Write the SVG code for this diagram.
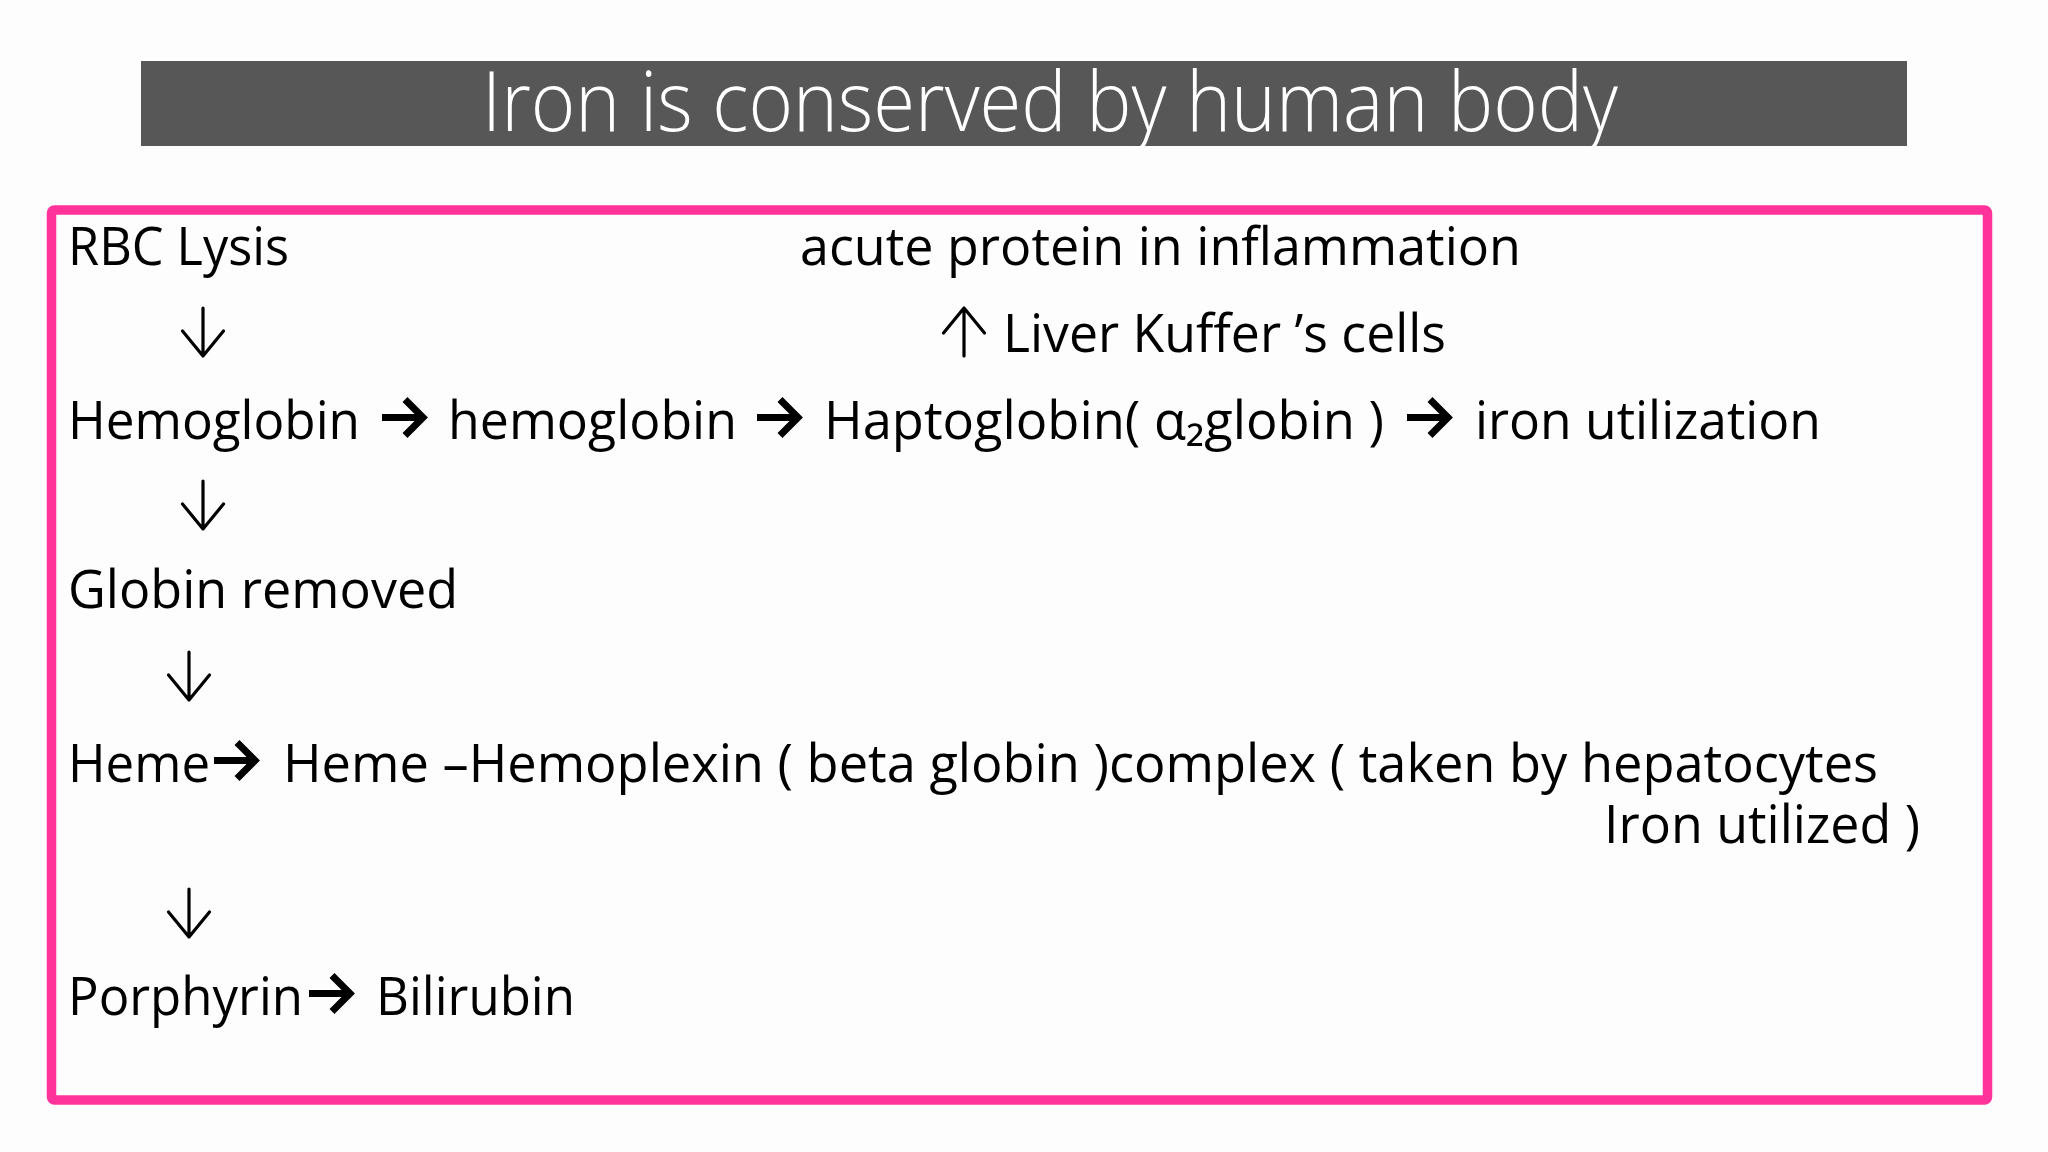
<svg xmlns="http://www.w3.org/2000/svg" xmlns:xlink="http://www.w3.org/1999/xlink" width="2048" height="1152" viewBox="0 0 2048 1152">
<style>
.t{font-family:"Open Sans","Noto Sans","Liberation Sans",sans-serif;font-size:53px;fill:#000}
.title{font-family:"Open Sans","Noto Sans","Liberation Sans",sans-serif;font-weight:300;font-size:83px;fill:#fff}
.ra{fill:none;stroke:#000;stroke-width:7;stroke-linejoin:miter;stroke-linecap:butt}
.va{fill:none;stroke:#000;stroke-width:3.2;stroke-linejoin:round;stroke-linecap:round}
</style>
<defs>
<g id="rarrow"><path class="ra" d="M0,-21.5 H40 M23,-39.5 L41,-21.5 L23,-3.5"/></g>
<g id="darrow"><path class="va" d="M0,0 V48 M-20.5,23 L0,48 L20.5,23"/></g>
</defs>
<rect x="0" y="0" width="2048" height="1152" fill="#fdfdfd"/>
<g id="title">
<rect x="141" y="61" width="1766" height="85" fill="#575757"/>
<text class="title" x="482" y="131" textLength="1136" lengthAdjust="spacingAndGlyphs">Iron is conserved by human body</text>
</g>
<g id="frame">
<rect x="51.5" y="210" width="1936" height="890" rx="3" fill="none" stroke="#ff3399" stroke-width="9.5"/>
</g>
<g id="n-rbc"><text class="t" x="68" y="265" textLength="221" lengthAdjust="spacingAndGlyphs">RBC Lysis</text></g>
<g id="n-acute"><text class="t" x="800" y="265" textLength="721" lengthAdjust="spacingAndGlyphs">acute protein in inflammation</text></g>
<g id="n-liver"><text class="t" x="1003" y="352" textLength="443" lengthAdjust="spacingAndGlyphs">Liver Kuffer ’s cells</text></g>
<g id="n-hemoglobin1"><text class="t" x="68" y="439" textLength="292" lengthAdjust="spacingAndGlyphs">Hemoglobin</text></g>
<g id="n-hemoglobin2"><text class="t" x="448" y="439" textLength="289" lengthAdjust="spacingAndGlyphs">hemoglobin</text></g>
<g id="n-haptoglobin"><text class="t" x="824" y="439" textLength="560" lengthAdjust="spacingAndGlyphs">Haptoglobin( α₂globin )</text></g>
<g id="n-iron-util"><text class="t" x="1475" y="439" textLength="346" lengthAdjust="spacingAndGlyphs">iron utilization</text></g>
<g id="n-globin"><text class="t" x="68" y="608" textLength="390" lengthAdjust="spacingAndGlyphs">Globin removed</text></g>
<g id="n-heme"><text class="t" x="68" y="782" textLength="142" lengthAdjust="spacingAndGlyphs">Heme</text></g>
<g id="n-hemoplexin">
<text class="t"><tspan x="283" y="782" textLength="1595" lengthAdjust="spacingAndGlyphs">Heme –Hemoplexin ( beta globin )complex ( taken by hepatocytes</tspan><tspan x="1604" y="843" textLength="316" lengthAdjust="spacingAndGlyphs">Iron utilized )</tspan></text>
</g>
<g id="n-porphyrin"><text class="t" x="68" y="1015" textLength="235" lengthAdjust="spacingAndGlyphs">Porphyrin</text></g>
<g id="n-bilirubin"><text class="t" x="376" y="1015" textLength="199" lengthAdjust="spacingAndGlyphs">Bilirubin</text></g>
<g id="connectors">
<use xlink:href="#darrow" x="203" y="308"/>
<use xlink:href="#darrow" x="203" y="481"/>
<use xlink:href="#darrow" x="189" y="652"/>
<use xlink:href="#darrow" x="189" y="889"/>
<use xlink:href="#darrow" transform="translate(964,356) rotate(180)"/>
<use xlink:href="#rarrow" x="382" y="439"/>
<use xlink:href="#rarrow" x="757" y="439"/>
<use xlink:href="#rarrow" x="1407" y="439"/>
<use xlink:href="#rarrow" x="214" y="782"/>
<use xlink:href="#rarrow" x="309" y="1015"/>
</g>
</svg>
